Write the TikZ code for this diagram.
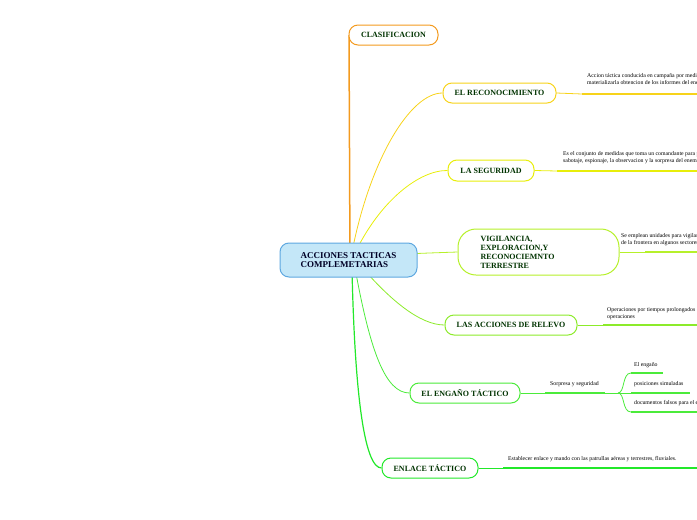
\documentclass[tikz,border=0pt]{standalone}
\usepackage{fontspec}
\setmainfont{Liberation Serif}
\begin{document}
\begin{tikzpicture}[x=1pt,y=-1pt,
 main/.style={draw=#1,line width=1pt,rounded corners=9pt,fill=white,font=\fontsize{8}{9}\selectfont\bfseries,text=black!80!green,inner sep=0pt},
 leaf/.style={font=\fontsize{5.8}{7.5}\selectfont,anchor=north west,align=left,inner sep=0pt},
 ln/.style={draw=#1,line width=0.8pt},
 ul/.style={draw=#1,line width=1.6pt}]
\useasboundingbox (0,0) rectangle (697,520);
\clip (0,0) rectangle (697,520);
\definecolor{cor}{HTML}{F39A1E}
\definecolor{cy1}{HTML}{F7D31A}
\definecolor{cy2}{HTML}{E8EE0A}
\definecolor{cg1}{HTML}{B6F02A}
\definecolor{cg2}{HTML}{8CEB2A}
\definecolor{cg3}{HTML}{4BEB3A}
\definecolor{cg4}{HTML}{22E82A}
\definecolor{cbl}{HTML}{5EA8E0}
\definecolor{cbf}{HTML}{C4E7F8}
\coordinate (o) at (350,262);
\draw[ln=cor,line width=1.5pt] (o) -- (349,35);
\node[main=cor,minimum width=89pt,minimum height=20pt] (cl) at (393.5,35) {CLASIFICACION};
\node[main=cy1,minimum width=113pt,minimum height=20pt] (rec) at (499.5,93) {EL RECONOCIMIENTO};
\node[main=cy2,minimum width=86pt,minimum height=21pt] (seg) at (491,170.5) {LA SEGURIDAD};
\node[main=cg1,minimum width=161pt,minimum height=46pt,rounded corners=18pt,align=left,text width=140pt] (vig) at (538.5,252) {\hspace*{12pt}VIGILANCIA,\\\hspace*{12pt}EXPLORACION,Y\\\hspace*{12pt}RECONOCIEMNTO\\\hspace*{12pt}TERRESTRE};
\node[main=cg2,minimum width=132pt,minimum height=20pt] (rel) at (511,325) {LAS ACCIONES DE RELEVO};
\node[main=cg3,minimum width=110pt,minimum height=20pt] (eng) at (465,393) {EL ENGAÑO TÁCTICO};
\node[main=cg4,minimum width=96pt,minimum height=20pt] (enl) at (430,468) {ENLACE TÁCTICO};
\draw[ln=cy1] (352,252) .. controls (370,160) and (410,93) .. (rec.west);
\draw[ln=cy2] (354,255) .. controls (380,200) and (420,170) .. (seg.west);
\draw[ln=cg1] (360,258) .. controls (400,254) .. (vig.west);
\draw[ln=cg2] (360,265) .. controls (390,300) and (420,325) .. (rel.west);
\draw[ln=cg3] (355,268) .. controls (370,350) and (385,393) .. (eng.west);
\draw[ln=cg4,line width=1.2pt] (352,270) .. controls (355,400) and (365,468) .. (enl.west);
\node[draw=cbl,line width=1pt,fill=cbf,rounded corners=9pt,minimum width=137pt,minimum height=34pt,align=left,font=\fontsize{9}{9.5}\selectfont\bfseries,text=black!85!blue,inner sep=0pt] (c) at (348.5,260) {ACCIONES TACTICAS\\COMPLEMETARIAS};
\node[leaf] (t1) at (587,73) {Accion táctica conducida en campaña por medio de la cual se pretende\\materializarla obtencion de los informes del enemigo};
\draw[ln=cy1] (rec.east) -- (582,94); \draw[ul=cy1] (582,94) -- (697,94);
\node[leaf] (t2) at (563,151) {Es el conjunto de medidas que toma un comandante para protegerse del\\sabotaje, espionaje, la observacion y la sorpresa del enemigo};
\draw[ln=cy2] (seg.east) -- (557,171); \draw[ul=cy2] (557,171) -- (697,171);
\node[leaf] (t3) at (621,233) {Se emplean unidades para vigilar\\de la frontera en algunos sectores};
\draw[ln=cg1] (vig.east) -- (645,252); \draw[ul=cg1] (645,252) -- (697,252);
\node[leaf] (t4) at (607,307) {Operaciones por tiempos prolongados en\\operaciones};
\draw[ln=cg2] (rel.east) -- (603,325); \draw[ul=cg2] (603,325) -- (697,325);
\node[leaf] (t5) at (550,381) {Sorpresa y seguridad};
\draw[ln=cg3] (eng.east) -- (545,393); \draw[ul=cg3] (545,393) -- (605,393);
\node[leaf] (t6) at (634,362) {El engaño};
\node[leaf] (t7) at (634,381) {posiciones simuladas};
\node[leaf] (t8) at (634,400) {documentos falsos para el enemigo};
\coordinate (b) at (618,393);
\draw[ln=cg3] (605,393) -- (b);
\draw[ln=cg3] (b) .. controls (625,393) and (622,373) .. (631,373); \draw[ul=cg3] (631,373) -- (663,373);
\draw[ln=cg3] (b) -- (631,393); \draw[ul=cg3] (631,393) -- (690,393);
\draw[ln=cg3] (b) .. controls (625,393) and (622,412) .. (631,412); \draw[ul=cg3] (631,412) -- (697,412);
\node[leaf] (t9) at (508,456) {Establecer enlace y mando con las patrullas aéreas y terrestres, fluviales.};
\draw[ln=cg4] (enl.east) -- (503,468); \draw[ul=cg4] (503,468) -- (697,468);
\end{tikzpicture}
\end{document}
